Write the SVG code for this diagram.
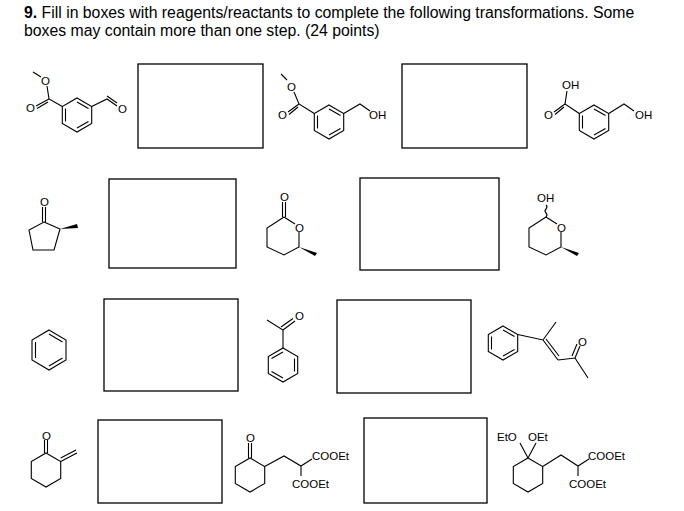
<svg xmlns="http://www.w3.org/2000/svg" width="684" height="511" viewBox="0 0 684 511">
<style>
text{font-family:"Liberation Sans",Arial,sans-serif;fill:#000}
.t{font-size:15.8px}
.a{font-size:11.5px}
.b{fill:none;stroke:#000;stroke-width:1.1}
.box{fill:#fff;stroke:#000;stroke-width:1.3}
</style>
<rect width="684" height="511" fill="#fff"/>
<text class="t" x="24" y="18"><tspan font-weight="bold">9.</tspan> Fill in boxes with reagents/reactants to complete the following transformations. Some</text>
<text class="t" x="24" y="36">boxes may contain more than one step. (24 points)</text>
<g id="boxes">
<rect class="box" x="138" y="64" width="125" height="84"/>
<rect class="box" x="402" y="64" width="125" height="84"/>
<rect class="box" x="109" y="179" width="127" height="89"/>
<rect class="box" x="360" y="178" width="139" height="92"/>
<rect class="box" x="104" y="299" width="134" height="92"/>
<rect class="box" x="337" y="300" width="134" height="93"/>
<rect class="box" x="98" y="420" width="124" height="83"/>
<rect class="box" x="364" y="418" width="123" height="85"/>
</g>
<g id="m1">
<path class="b" d="M77,98 L91.7,106.5 L91.7,123.5 L77,132 L62.3,123.5 L62.3,106.5 Z M77,102 L88.5,108.5 M88.5,121.5 L77,128 M65.5,121.5 L65.5,108.5"/>
<path class="b" d="M62.3,106.5 L49,99 L47,86 M41,77 L33,72 M49,99 L36,106 M48,102 L37,108.5 M91.7,106.5 L107,99 L117,106 M107,96 L117,103"/>
<text class="a" x="41" y="85">O</text><text class="a" x="26" y="112">O</text><text class="a" x="118" y="113">O</text>
</g>
<g id="m2">
<path class="b" d="M329,105 L343.7,113.5 L343.7,130.5 L329,139 L314.3,130.5 L314.3,113.5 Z M329,109 L340.5,115.5 M340.5,128.5 L329,135 M317.5,128.5 L317.5,115.5"/>
<path class="b" d="M314.3,113.5 L299,104 L294,92 M287,80 L281,74 M299,104 L288,112 M298,107 L289,114.5 M343.7,113.5 L360,104 L370,111"/>
<text class="a" x="287" y="91">O</text><text class="a" x="278" y="119">O</text><text class="a" x="369" y="119">OH</text>
</g>
<g id="m3">
<path class="b" d="M594,105 L608.7,113.5 L608.7,130.5 L594,139 L579.3,130.5 L579.3,113.5 Z M594,109 L605.5,115.5 M605.5,128.5 L594,135 M582.5,128.5 L582.5,115.5"/>
<path class="b" d="M579.3,113.5 L565,104 L567,91 M565,104 L554,112 M564,107 L555,114.5 M608.7,113.5 L624,104 L634,111"/>
<text class="a" x="562" y="89">OH</text><text class="a" x="544" y="119">O</text><text class="a" x="635" y="119">OH</text>
</g>
<g id="m4">
<path class="b" d="M44,222 L60,229 L54,250 L33,250 L29,230 Z M42.5,222 L42.5,207 M45.5,222 L45.5,207"/>
<polygon points="60,229 77,224 78,228" fill="#000"/>
<text class="a" x="40" y="206">O</text>
</g>
<g id="m5">
<path class="b" d="M284,217 L295,224 M299,232 L299,247 L284,255 L267,247 L267,228 L284,217 M282.5,217 L282.5,202 M285.5,217 L285.5,202"/>
<polygon points="299,247 317,253 315,256" fill="#000"/>
<text class="a" x="280" y="201">O</text><text class="a" x="295" y="232">O</text>
</g>
<g id="m6">
<path class="b" d="M546,217 L557,224 M561,232 L561,247 L546,255 L529,247 L529,228 L546,217"/>
<path class="b" d="M546,217 q2,-2 0,-4 q-2,-2 0,-4 q2,-2 0,-4"/>
<polygon points="561,247 579,253 577,256" fill="#000"/>
<text class="a" x="537" y="202">OH</text><text class="a" x="557" y="232">O</text>
</g>
<g id="m7">
<path class="b" d="M49,330 L66,340 L66,360 L49,370 L32,360 L32,340 Z M49,334 L62.5,342 M62.5,358 L49,366 M35.5,358 L35.5,342"/>
</g>
<g id="m8">
<path class="b" d="M283,348 L297.7,356.5 L297.7,373.5 L283,382 L268.3,373.5 L268.3,356.5 Z M294.5,358.5 L294.5,371.5 M283,378 L271.5,371.5 M271.5,358.5 L283,352"/>
<path class="b" d="M283,348 L283,330 L267,320 M283,330 L295,321 M281,327 L293,318.5"/>
<text class="a" x="295" y="320">O</text>
</g>
<g id="m9">
<path class="b" d="M503,326 L517.7,334.5 L517.7,351.5 L503,360 L488.3,351.5 L488.3,334.5 Z M503,330 L514.5,336.5 M514.5,349.5 L503,356 M491.5,349.5 L491.5,336.5"/>
<path class="b" d="M517.7,334.5 L543,340 L556,322 M543,340 L558,360 M546,339 L559,356 M558,360 L575,358 L588,378 M575,358 L580,346 M572,356 L577,344"/>
<text class="a" x="578" y="346">O</text>
</g>
<g id="m10">
<path class="b" d="M46,453 L60.7,461.5 L60.7,478.5 L46,487 L31.3,478.5 L31.3,461.5 Z M44.5,453 L44.5,440 M47.5,453 L47.5,440 M60.7,461.5 L77,453 M60.7,458 L76,450"/>
<text class="a" x="42" y="440">O</text>
</g>
<g id="m11">
<path class="b" d="M250,458 L264.7,466.5 L264.7,483.5 L250,492 L235.3,483.5 L235.3,466.5 Z M248.5,458 L248.5,443 M251.5,458 L251.5,443 M264.7,466.5 L284,456 L301,466 L312,459 M301,466 L301,476"/>
<text class="a" x="246" y="442">O</text>
<text class="a" x="312" y="460">COOEt</text><text class="a" x="292" y="488">COOEt</text>
</g>
<g id="m12">
<path class="b" d="M528,458 L542.7,466.5 L542.7,483.5 L528,492 L513.3,483.5 L513.3,466.5 Z M528,458 L520,443 M528,458 L536,443 M542.7,466.5 L561,455 L578,466 L589,459 M578,466 L578,476"/>
<text class="a" x="497" y="441">EtO</text><text class="a" x="528" y="441">OEt</text>
<text class="a" x="588" y="460">COOEt</text><text class="a" x="569" y="488">COOEt</text>
</g>
</svg>
